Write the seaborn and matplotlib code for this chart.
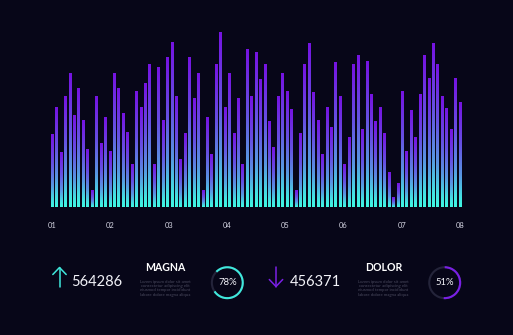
import numpy as np
import pandas as pd
import matplotlib
matplotlib.use("Agg")
import matplotlib.pyplot as plt
import seaborn as sns
from matplotlib.colors import LinearSegmentedColormap
from matplotlib.patches import Wedge

# ---------------- data ----------------
bar_values = [73, 100, 55, 111, 134, 92, 119, 87, 58, 17,
              111, 64, 90, 56, 134, 119, 94, 75, 43, 116,
              100, 124, 143, 43, 140, 87, 150, 165, 111, 48,
              74, 150, 109, 134, 17, 90, 53, 143, 175, 100,
              134, 74, 109, 43, 158, 111, 155, 128, 143, 86,
              60, 111, 134, 116, 98, 17, 74, 143, 164, 115,
              87, 53, 100, 80, 145, 111, 43, 70, 143, 152,
              78, 146, 113, 86, 100, 74, 35, 10, 24, 116,
              56, 97, 70, 113, 152, 129, 164, 143, 111, 99,
              78, 129, 105]
period_labels = ["01", "02", "03", "04", "05", "06", "07", "08"]
kpi_values = ["564286", "456371"]
kpi_titles = ["MAGNA", "DOLOR"]
kpi_percents = [78, 51]
lorem_lines = ["Lorem ipsum dolor sit amet",
               "consectetur adipiscing elit",
               "eiusmod tempor incididunt",
               "labore dolore magna aliqua"]

BG = "#070618"
CYAN = "#3fe8dc"
PURPLE = "#7a1fe6"
TRACK = "#24243a"

sns.set_theme(style="dark")
plt.rcParams["font.family"] = ["Lato", "DejaVu Sans"]

W, H = 513, 335
fig = plt.figure(figsize=(W / 100, H / 100), dpi=100, facecolor=BG)

# ---------------- bar chart ----------------
base_y = 207.3
ax = fig.add_axes([50.1 / W, (H - base_y) / H, 412.1 / W, 180 / H])
ax.set_facecolor(BG)
df = pd.DataFrame({"bar": np.arange(len(bar_values)), "value": bar_values})
sns.barplot(data=df, x="bar", y="value", ax=ax, width=0.64, color="#5a70e0",
            saturation=1, errorbar=None)

cmap = LinearSegmentedColormap.from_list(
    "grad", [(0.0, "#3ff8e4"), (0.09, "#44e2e2"), (0.30, "#5896e2"),
             (0.60, "#6650e2"), (1.0, "#7612e2")])
grad = np.linspace(0, 1, 256).reshape(-1, 1)
for p in list(ax.patches):
    x, y = p.get_x(), p.get_y()
    w, h = p.get_width(), p.get_height()
    p.set_facecolor("none")
    p.set_edgecolor("none")
    im = ax.imshow(grad, extent=[x, x + w, 0, h], aspect="auto", cmap=cmap,
                   origin="lower", zorder=2, interpolation="bilinear")
    im.set_clip_path(p)

n = len(bar_values)
ax.set_xlim(-0.5, n - 0.5)
ax.set_ylim(0, 180)
ax.set_aspect("auto")
ax.set_xticks(np.linspace(0, n - 1, len(period_labels)))
ax.set_xticklabels(period_labels, color="#d4d4e2", fontsize=5.4)
ax.tick_params(axis="x", length=0, pad=10.5)
ax.set_yticks([])
ax.set_xlabel("")
ax.set_ylabel("")
ax.grid(False)
for s in ax.spines.values():
    s.set_visible(False)

# ---------------- infographic overlay ----------------
ov = fig.add_axes([0, 0, 1, 1])
ov.set_xlim(0, W)
ov.set_ylim(0, H)
ov.axis("off")
ov.patch.set_alpha(0)


def Y(y):
    return H - y


# arrows
ax_up = 59.5
ov.plot([ax_up, ax_up], [Y(267.5), Y(286.5)], color=CYAN, lw=1.1,
        solid_capstyle="round")
ov.plot([52.8, ax_up, 66.2], [Y(274.5), Y(267.5), Y(274.5)], color=CYAN,
        lw=1.1, solid_capstyle="round", solid_joinstyle="round")
ax_dn = 276
ov.plot([ax_dn, ax_dn], [Y(266.5), Y(286.5)], color=PURPLE, lw=1.1,
        solid_capstyle="round")
ov.plot([269.3, ax_dn, 282.7], [Y(279.5), Y(286.5), Y(279.5)], color=PURPLE,
        lw=1.1, solid_capstyle="round", solid_joinstyle="round")

# big numbers
num_x = [71, 290]
for xv, txt in zip(num_x, kpi_values):
    ov.text(xv, Y(281.5), txt, color="#f2f2f8", fontsize=10.5,
            ha="left", va="center")

# titles and lorem
col_x = [165, 383.5]
for xc, title in zip(col_x, kpi_titles):
    ov.text(xc, Y(267.5), title, color="#ffffff", fontsize=7.6,
            fontweight="bold", ha="center", va="center")
    for i, line in enumerate(lorem_lines):
        ov.text(xc, Y(281.5 + 4.5 * i), line, color="#4a4a5e", fontsize=3.1,
                ha="center", va="center")

# donuts
donut_c = [(227.3, 282.7), (444.7, 282.7)]
donut_col = [CYAN, PURPLE]
donut_start = [135, 90]
for (cx, cy), pct, col, st in zip(donut_c, kpi_percents, donut_col, donut_start):
    r, wd = 16.5, 2.1
    ov.add_patch(Wedge((cx, Y(cy)), r, 0, 360, width=wd, facecolor=TRACK,
                       edgecolor="none"))
    ang = pct / 100 * 360
    ov.add_patch(Wedge((cx, Y(cy)), r, st - ang, st, width=wd, facecolor=col,
                       edgecolor="none"))
    ov.text(cx, Y(cy), f"{pct}%", color="#f2f2f8", fontsize=6.8,
            ha="center", va="center")

fig.savefig("out.png", dpi=100, facecolor=BG)
